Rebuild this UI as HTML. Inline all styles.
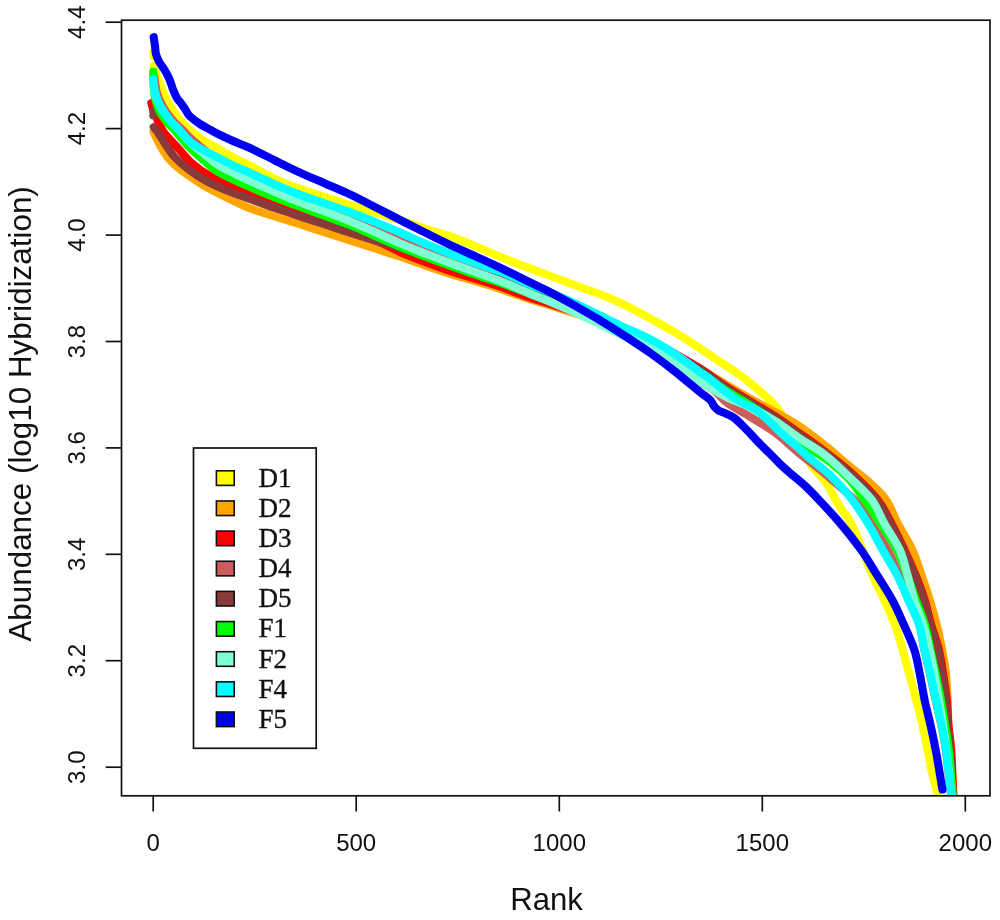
<!DOCTYPE html>
<html><head><meta charset="utf-8"><title>Rank abundance</title>
<style>
html,body{margin:0;padding:0;background:#fff;}
body{width:1000px;height:920px;overflow:hidden;}
svg{display:block;}
text{fill:#111;}
.ax{font-family:"Liberation Sans",sans-serif;font-size:24px;}
.ti{font-family:"Liberation Sans",sans-serif;font-size:31.1px;}
.yl{font-family:"Liberation Sans",sans-serif;font-size:31.4px;}
.lg{font-family:"Liberation Serif",serif;font-size:27px;stroke:#111;stroke-width:0.35px;}
</style></head><body>
<svg width="1000" height="920" viewBox="0 0 1000 920">
<rect x="0" y="0" width="1000" height="920" fill="#ffffff"/>
<defs><clipPath id="pc"><rect x="121.5" y="20.2" width="868.5" height="775.6"/></clipPath></defs>

<g clip-path="url(#pc)" fill="none" stroke-width="8.1" stroke-linecap="round" stroke-linejoin="round">
<path stroke="#FFFF00" d="M153.6,65.9C154.2,67.8 156.3,74.0 157.5,77.2C158.7,80.4 159.7,82.9 160.5,85.0C161.3,87.1 161.2,87.7 162.2,90.0C163.2,92.3 164.8,95.7 166.5,99.0C168.2,102.3 170.3,106.5 172.6,110.0C174.8,113.5 176.9,116.5 180.0,120.0C183.1,123.5 187.3,127.4 191.0,130.7C194.7,133.9 198.0,136.8 202.0,139.5C206.0,142.2 210.0,144.1 215.0,146.9C220.0,149.7 226.2,153.4 232.0,156.5C237.8,159.6 242.8,162.0 250.0,165.7C257.2,169.4 266.7,174.9 275.0,178.8C283.3,182.7 291.7,185.9 300.0,188.9C308.3,191.9 316.7,194.3 325.0,197.0C333.3,199.7 341.7,202.5 350.0,205.1C358.3,207.7 366.7,210.0 375.0,212.5C383.3,215.0 391.7,217.3 400.0,220.0C408.3,222.7 416.7,225.8 425.0,228.5C433.3,231.2 441.7,233.5 450.0,236.4C458.3,239.3 466.7,242.6 475.0,246.0C483.3,249.4 491.7,253.3 500.0,256.7C508.3,260.1 516.7,263.3 525.0,266.5C533.3,269.7 541.7,272.8 550.0,275.9C558.3,279.0 566.7,282.1 575.0,285.2C583.3,288.3 591.7,291.0 600.0,294.3C608.3,297.6 616.7,301.1 625.0,305.1C633.3,309.1 641.7,313.9 650.0,318.5C658.3,323.1 666.7,327.4 675.0,332.4C683.3,337.4 692.9,343.7 700.0,348.3C707.1,352.9 711.6,356.2 717.4,360.1C723.2,364.0 729.4,367.7 734.8,371.5C740.2,375.3 744.2,378.1 750.0,382.9C755.8,387.6 764.6,395.2 769.6,400.0C774.6,404.8 775.8,405.4 780.0,411.7C784.2,418.0 789.8,429.1 795.0,438.0C800.2,446.9 806.0,457.8 811.0,465.0C816.0,472.2 820.7,475.2 824.8,481.0C828.9,486.8 832.9,495.2 835.7,500.0C838.6,504.8 839.9,507.0 841.9,510.0C843.9,513.0 845.9,514.7 848.0,518.0C850.1,521.3 852.0,525.0 854.3,530.0C856.6,535.0 859.5,542.2 861.8,548.0C864.1,553.8 865.7,559.2 868.0,565.0C870.3,570.8 873.1,576.7 875.8,582.5C878.5,588.3 881.1,592.9 884.3,600.0C887.5,607.1 891.9,616.7 895.0,625.0C898.1,633.3 900.3,641.7 902.7,650.0C905.1,658.3 907.2,666.7 909.5,675.0C911.8,683.3 914.0,691.7 916.2,700.0C918.4,708.3 920.6,716.7 922.5,725.0C924.4,733.3 926.0,742.2 927.6,750.0C929.2,757.8 930.3,764.4 932.0,772.0C933.7,779.6 936.6,791.0 937.8,795.8C939.0,800.6 938.8,800.1 939.0,801.0"/>
<circle cx="153.3" cy="52.5" r="4.05" fill="#FFFF00" stroke="none"/>
<circle cx="153.3" cy="56.5" r="4.05" fill="#FFFF00" stroke="none"/>
<path stroke="#FFA500" d="M153.5,132.0C154.1,133.2 155.5,136.3 156.8,139.0C158.1,141.7 159.8,145.1 161.5,148.0C163.2,150.9 164.8,153.7 167.0,156.5C169.2,159.3 172.3,162.5 175.0,165.0C177.7,167.5 180.5,169.6 183.0,171.5C185.5,173.4 186.8,174.1 190.0,176.3C193.2,178.5 197.8,181.9 202.0,184.5C206.2,187.1 210.0,189.0 215.0,191.6C220.0,194.2 226.2,197.2 232.0,200.0C237.8,202.8 242.8,205.6 250.0,208.3C257.2,211.1 266.7,213.8 275.0,216.5C283.3,219.2 291.7,221.5 300.0,224.2C308.3,226.9 316.7,229.8 325.0,232.5C333.3,235.2 341.7,237.7 350.0,240.4C358.3,243.1 366.7,245.8 375.0,248.5C383.3,251.2 391.7,253.7 400.0,256.5C408.3,259.3 416.7,262.6 425.0,265.5C433.3,268.4 441.7,271.2 450.0,273.8C458.3,276.4 466.7,278.6 475.0,281.1C483.3,283.6 491.7,286.1 500.0,288.9C508.3,291.6 516.7,294.9 525.0,297.6C533.3,300.4 541.7,302.8 550.0,305.4C558.3,308.0 566.7,310.7 575.0,313.5C583.3,316.3 591.7,318.9 600.0,322.0C608.3,325.1 616.7,328.7 625.0,332.0C633.3,335.3 641.7,338.1 650.0,341.9C658.3,345.7 666.7,350.5 675.0,355.0C683.3,359.5 691.7,364.2 700.0,369.0C708.3,373.8 716.7,379.0 725.0,383.9C733.3,388.8 741.7,393.7 750.0,398.4C758.3,403.1 766.7,407.3 775.0,412.0C783.3,416.7 791.7,421.1 800.0,426.7C808.3,432.3 816.7,438.9 825.0,445.5C833.3,452.1 842.5,460.4 850.0,466.6C857.5,472.9 864.0,477.4 870.0,483.0C876.0,488.6 881.4,493.0 886.2,500.0C891.0,507.0 894.2,516.7 898.6,525.0C903.0,533.3 908.6,541.7 912.4,550.0C916.2,558.3 918.6,566.7 921.5,575.0C924.4,583.3 927.2,591.7 929.8,600.0C932.3,608.3 934.7,616.7 936.8,625.0C938.9,633.3 940.7,641.7 942.2,650.0C943.7,658.3 945.1,666.7 946.0,675.0C946.9,683.3 947.2,691.7 947.6,700.0C948.0,708.3 948.0,716.7 948.4,725.0C948.8,733.3 949.2,738.3 949.9,750.0C950.6,761.7 951.9,786.5 952.4,795.0C952.9,803.5 952.7,800.0 952.7,801.0"/>
<path stroke="#FF0000" d="M151.3,103.0C151.7,104.2 152.5,107.2 153.5,110.0C154.5,112.8 156.0,116.7 157.5,120.0C159.0,123.3 160.4,126.9 162.3,130.0C164.2,133.1 166.6,135.7 169.0,138.5C171.4,141.3 174.6,144.3 177.0,147.0C179.4,149.7 181.3,152.1 183.5,154.5C185.7,156.9 186.9,158.8 190.0,161.5C193.1,164.2 197.8,168.2 202.0,171.0C206.2,173.8 210.0,176.0 215.0,178.5C220.0,181.0 226.2,183.8 232.0,186.0C237.8,188.2 242.8,188.9 250.0,191.5C257.2,194.1 266.7,198.4 275.0,201.5C283.3,204.6 291.7,207.2 300.0,210.0C308.3,212.8 316.7,215.6 325.0,218.5C333.3,221.4 341.7,224.0 350.0,227.5C358.3,231.0 366.7,235.4 375.0,239.5C383.3,243.6 391.7,248.3 400.0,252.1C408.3,255.8 416.7,258.9 425.0,262.0C433.3,265.1 441.7,268.2 450.0,271.0C458.3,273.8 466.7,276.0 475.0,278.6C483.3,281.2 491.7,283.6 500.0,286.5C508.3,289.4 516.7,293.0 525.0,295.9C533.3,298.8 541.7,301.3 550.0,304.0C558.3,306.7 566.7,309.2 575.0,312.0C583.3,314.8 591.7,317.8 600.0,321.0C608.3,324.2 616.6,328.2 625.0,331.5C633.4,334.8 642.0,336.8 650.4,340.6C658.8,344.4 667.1,349.4 675.5,354.1C683.9,358.8 692.2,363.4 700.5,368.7C708.8,374.0 717.2,380.7 725.5,386.1C733.8,391.6 742.1,396.3 750.5,401.4C758.9,406.5 767.2,411.2 775.6,416.7C784.0,422.1 792.3,428.2 800.6,434.1C808.9,440.0 817.2,445.8 825.6,452.2C834.0,458.6 842.1,464.5 850.7,472.4C859.3,480.3 870.5,490.7 877.4,499.4C884.3,508.1 887.4,516.1 891.9,524.5C896.4,532.9 900.4,541.2 904.3,549.6C908.2,558.0 912.0,566.2 915.4,574.6C918.8,583.0 922.0,591.4 924.6,599.7C927.2,608.1 928.8,616.4 931.2,624.7C933.6,633.1 936.9,641.4 938.9,649.8C940.9,658.1 942.0,666.4 943.3,674.8C944.6,683.1 945.9,691.5 946.8,699.9C947.6,708.2 947.7,716.6 948.4,724.9C949.1,733.2 950.4,738.2 951.2,749.9C952.0,761.6 953.0,786.5 953.4,795.0C953.8,803.5 953.7,800.0 953.7,801.0"/>
<path stroke="#CD5C5C" d="M154.2,76.0C154.4,77.5 155.0,82.2 155.5,85.0C156.0,87.8 156.2,90.3 157.0,93.0C157.8,95.7 158.7,98.2 160.0,101.0C161.3,103.8 162.9,106.8 165.0,110.0C167.1,113.2 169.8,116.8 172.5,120.0C175.2,123.2 178.2,125.8 181.5,129.0C184.8,132.2 186.4,134.7 192.0,139.5C197.6,144.3 205.3,151.8 215.0,158.0C224.7,164.2 235.8,169.8 250.0,176.5C264.2,183.2 283.3,191.8 300.0,198.5C316.7,205.2 333.3,209.9 350.0,216.5C366.7,223.1 383.3,231.0 400.0,238.0C416.7,245.0 433.3,252.1 450.0,258.5C466.7,264.9 483.3,270.1 500.0,276.5C516.7,282.9 533.3,289.8 550.0,297.0C566.7,304.2 583.3,311.9 600.0,320.0C616.7,328.1 633.3,335.6 650.0,345.9C666.7,356.1 689.2,373.9 700.0,381.5C710.8,389.1 710.4,387.6 715.0,391.2C719.6,394.8 722.0,399.1 727.8,403.3C733.6,407.6 742.1,411.8 750.0,416.7C757.9,421.6 766.7,426.3 775.0,432.5C783.3,438.7 791.7,447.1 800.0,454.0C808.3,460.9 815.9,466.3 825.0,474.0C834.1,481.7 846.6,491.5 854.4,500.0C862.2,508.5 866.4,516.7 872.0,525.0C877.6,533.3 883.3,541.7 887.8,550.0C892.3,558.3 895.5,566.7 899.0,575.0C902.5,583.3 905.6,591.7 909.0,600.0C912.4,608.3 917.0,616.7 919.5,625.0C922.0,633.3 922.5,641.7 924.3,650.0C926.1,658.3 928.4,666.7 930.3,675.0C932.2,683.3 933.8,691.7 935.6,700.0C937.4,708.3 939.6,716.7 941.3,725.0C943.0,733.3 944.2,738.2 945.8,750.0C947.4,761.8 950.1,787.3 951.1,795.8C952.1,804.3 951.7,800.1 951.8,801.0"/>
<path stroke="#8B3A3A" d="M153.7,127.2C154.2,127.8 155.7,129.2 157.0,131.0C158.3,132.8 159.9,135.6 161.5,138.0C163.1,140.4 164.4,142.7 166.3,145.5C168.2,148.3 170.3,152.0 172.8,155.0C175.3,158.0 178.6,160.9 181.5,163.5C184.4,166.1 186.6,168.0 190.0,170.5C193.4,173.0 197.8,176.0 202.0,178.5C206.2,181.0 210.0,183.0 215.0,185.3C220.0,187.6 226.2,190.2 232.0,192.5C237.8,194.8 242.8,196.4 250.0,199.0C257.2,201.6 266.7,205.1 275.0,208.0C283.3,210.9 291.7,213.6 300.0,216.3C308.3,219.1 316.7,221.8 325.0,224.5C333.3,227.2 341.7,230.0 350.0,232.7C358.3,235.4 366.7,238.0 375.0,240.5C383.3,243.0 391.7,245.1 400.0,247.8C408.3,250.5 416.7,253.6 425.0,256.5C433.3,259.4 441.7,262.2 450.0,265.0C458.3,267.8 466.7,270.5 475.0,273.0C483.3,275.5 491.7,277.3 500.0,280.0C508.3,282.7 516.7,286.0 525.0,289.0C533.3,292.0 541.7,294.8 550.0,298.0C558.3,301.2 566.7,305.0 575.0,308.5C583.3,312.0 591.7,315.4 600.0,319.0C608.3,322.6 616.7,326.2 625.0,330.0C633.3,333.8 641.7,337.4 650.0,341.6C658.3,345.8 666.7,350.3 675.0,355.0C683.3,359.7 691.7,364.3 700.0,369.6C708.3,374.9 716.7,381.4 725.0,386.8C733.3,392.2 741.7,397.2 750.0,402.3C758.3,407.4 766.7,412.1 775.0,417.5C783.3,422.9 791.7,429.0 800.0,434.9C808.3,440.8 816.7,446.6 825.0,453.0C833.3,459.4 841.4,465.3 850.0,473.1C858.6,480.9 869.8,491.4 876.6,500.0C883.4,508.6 886.5,516.7 891.0,525.0C895.5,533.3 899.5,541.7 903.4,550.0C907.3,558.3 911.1,566.7 914.5,575.0C917.9,583.3 921.1,591.7 923.7,600.0C926.3,608.3 927.8,616.7 930.2,625.0C932.6,633.3 935.9,641.7 937.9,650.0C939.9,658.3 941.0,666.7 942.3,675.0C943.6,683.3 944.9,691.7 945.8,700.0C946.6,708.3 946.7,716.7 947.4,725.0C948.1,733.3 949.4,738.3 950.2,750.0C951.0,761.7 952.0,786.5 952.4,795.0C952.8,803.5 952.7,800.0 952.7,801.0"/>
<circle cx="153.3" cy="111.5" r="4.05" fill="#8B3A3A" stroke="none"/>
<circle cx="153.3" cy="115.5" r="4.05" fill="#8B3A3A" stroke="none"/>
<path stroke="#00FF00" d="M153.3,71.5C153.3,73.8 153.1,80.6 153.4,85.0C153.7,89.4 154.1,93.8 155.0,98.0C155.9,102.2 157.2,106.2 159.0,110.0C160.8,113.8 163.4,117.7 166.0,121.0C168.6,124.3 170.6,125.5 174.6,130.0C178.6,134.5 185.4,143.2 190.0,148.0C194.6,152.8 197.8,155.1 202.0,158.7C206.2,162.3 210.0,166.4 215.0,169.8C220.0,173.2 226.2,176.1 232.0,179.0C237.8,181.9 242.8,184.0 250.0,187.1C257.2,190.2 266.7,194.2 275.0,197.5C283.3,200.8 291.7,203.7 300.0,206.8C308.3,209.9 316.7,212.9 325.0,216.0C333.3,219.1 341.7,221.8 350.0,225.1C358.3,228.4 366.7,232.4 375.0,236.0C383.3,239.6 391.7,243.3 400.0,246.7C408.3,250.1 416.7,253.3 425.0,256.5C433.3,259.7 441.7,262.7 450.0,265.7C458.3,268.7 466.7,271.6 475.0,274.5C483.3,277.4 491.7,279.9 500.0,282.8C508.3,285.7 516.7,288.9 525.0,292.0C533.3,295.1 541.7,298.4 550.0,301.5C558.3,304.6 566.7,307.4 575.0,310.5C583.3,313.6 591.7,316.6 600.0,320.0C608.3,323.4 616.7,327.2 625.0,331.0C633.3,334.8 641.7,338.3 650.0,342.6C658.3,346.9 666.7,351.9 675.0,357.0C683.3,362.1 691.7,367.5 700.0,373.0C708.3,378.5 716.7,384.4 725.0,389.8C733.3,395.2 741.7,399.7 750.0,405.1C758.3,410.5 766.7,415.9 775.0,422.0C783.3,428.1 790.8,435.3 800.0,442.0C809.2,448.7 821.7,455.7 830.0,462.0C838.3,468.3 844.3,473.7 850.0,480.0C855.7,486.3 859.4,492.8 864.4,500.0C869.4,507.2 874.6,514.7 880.0,523.0C885.4,531.3 892.5,541.3 897.0,550.0C901.5,558.7 903.9,566.7 907.0,575.0C910.1,583.3 912.9,591.7 915.9,600.0C918.9,608.3 922.6,616.7 925.0,625.0C927.4,633.3 928.7,641.7 930.5,650.0C932.3,658.3 934.2,666.7 936.0,675.0C937.8,683.3 939.5,691.7 941.0,700.0C942.5,708.3 943.7,716.7 945.0,725.0C946.3,733.3 947.5,738.3 948.8,750.0C950.1,761.7 952.1,786.5 952.8,795.0C953.5,803.5 953.1,800.0 953.2,801.0"/>
<path stroke="#7FFFD4" d="M153.4,84.0C153.6,85.5 154.0,90.0 154.8,93.0C155.6,96.0 156.6,98.9 158.0,102.0C159.4,105.1 161.4,108.3 163.5,111.5C165.6,114.7 167.8,117.8 170.5,121.0C173.2,124.2 176.6,127.3 179.8,130.8C183.1,134.4 186.1,138.6 190.0,142.3C193.9,146.0 198.8,149.6 203.0,153.0C207.2,156.4 210.2,159.6 215.0,162.8C219.8,166.1 226.2,169.5 232.0,172.5C237.8,175.5 242.8,177.8 250.0,181.0C257.2,184.2 266.7,188.4 275.0,192.0C283.3,195.6 291.7,199.1 300.0,202.3C308.3,205.6 316.7,208.3 325.0,211.5C333.3,214.7 341.7,217.8 350.0,221.2C358.3,224.6 366.7,228.3 375.0,232.0C383.3,235.7 391.7,239.8 400.0,243.4C408.3,247.0 416.7,250.2 425.0,253.5C433.3,256.8 441.7,259.8 450.0,262.9C458.3,266.0 466.7,269.0 475.0,272.0C483.3,275.0 491.7,277.8 500.0,281.0C508.3,284.2 516.7,288.0 525.0,291.5C533.3,295.0 541.7,298.3 550.0,301.8C558.3,305.3 566.7,308.8 575.0,312.6C583.3,316.4 591.7,320.5 600.0,324.5C608.3,328.5 616.7,332.9 625.0,336.5C633.3,340.1 641.7,341.9 650.0,346.1C658.3,350.4 666.7,356.1 675.0,362.0C683.3,367.9 691.7,375.8 700.0,381.5C708.3,387.2 716.7,392.1 725.0,396.4C733.3,400.7 741.7,403.0 750.0,407.1C758.3,411.2 766.7,415.7 775.0,421.0C783.3,426.3 791.7,433.0 800.0,438.7C808.3,444.4 816.7,448.5 825.0,455.0C833.3,461.5 842.2,470.2 850.0,477.7C857.8,485.2 866.1,492.4 871.8,500.0C877.5,507.6 879.3,514.7 884.0,523.0C888.7,531.3 895.9,541.3 899.8,550.0C903.7,558.7 905.1,566.7 907.5,575.0C909.9,583.3 911.5,591.7 914.1,600.0C916.7,608.3 920.6,616.7 923.2,625.0C925.8,633.3 927.6,641.7 929.5,650.0C931.4,658.3 932.9,666.7 934.5,675.0C936.1,683.3 937.6,691.7 939.0,700.0C940.4,708.3 941.8,716.7 943.0,725.0C944.2,733.3 945.1,738.3 946.5,750.0C947.9,761.7 950.6,786.5 951.5,795.0C952.4,803.5 951.9,800.0 952.0,801.0"/>
<path stroke="#00FFFF" d="M153.3,79.3C153.5,81.1 153.9,86.5 154.6,90.0C155.3,93.5 156.2,96.7 157.5,100.0C158.8,103.3 160.5,106.6 162.6,110.0C164.7,113.4 167.2,117.2 170.0,120.5C172.8,123.8 176.1,126.5 179.4,130.0C182.7,133.5 186.2,138.2 190.0,141.5C193.8,144.8 197.8,147.1 202.0,149.5C206.2,151.9 210.0,153.5 215.0,156.1C220.0,158.7 226.2,162.2 232.0,165.0C237.8,167.8 242.8,169.7 250.0,172.9C257.2,176.2 266.7,180.8 275.0,184.5C283.3,188.2 291.7,191.7 300.0,194.9C308.3,198.1 316.7,200.6 325.0,203.5C333.3,206.4 341.7,209.0 350.0,212.1C358.3,215.2 366.7,218.6 375.0,222.0C383.3,225.4 391.7,228.9 400.0,232.5C408.3,236.1 416.7,240.0 425.0,243.5C433.3,247.0 441.7,250.4 450.0,253.7C458.3,256.9 466.7,260.0 475.0,263.0C483.3,266.0 491.7,268.2 500.0,271.5C508.3,274.8 516.7,279.0 525.0,282.5C533.3,286.0 541.7,289.0 550.0,292.5C558.3,296.0 566.7,299.7 575.0,303.5C583.3,307.3 591.7,311.5 600.0,315.5C608.3,319.5 616.7,323.7 625.0,327.6C633.3,331.5 641.7,334.7 650.0,339.1C658.3,343.5 666.7,348.5 675.0,354.0C683.3,359.5 693.8,367.6 700.0,372.0C706.2,376.4 707.8,377.3 712.0,380.5C716.2,383.7 720.8,388.0 725.0,391.2C729.2,394.4 732.8,397.3 737.0,399.9C741.2,402.4 746.2,404.4 750.0,406.5C753.8,408.6 755.8,409.4 760.0,412.8C764.2,416.2 771.7,423.8 775.0,427.0C778.3,430.2 775.8,428.2 780.0,432.0C784.2,435.8 794.8,444.9 800.0,449.5C805.2,454.1 806.6,455.5 811.3,459.5C816.0,463.5 823.5,469.2 828.3,473.5C833.1,477.8 836.0,481.2 840.0,485.5C844.0,489.8 847.2,492.9 852.0,499.5C856.8,506.1 863.9,516.6 869.0,525.0C874.1,533.4 878.0,541.7 882.7,550.0C887.4,558.3 892.7,566.7 897.0,575.0C901.3,583.3 904.6,591.7 908.3,600.0C912.0,608.3 916.5,616.7 919.2,625.0C921.9,633.3 922.6,641.7 924.5,650.0C926.4,658.3 928.6,666.7 930.5,675.0C932.4,683.3 934.0,691.7 935.8,700.0C937.6,708.3 939.8,716.7 941.5,725.0C943.2,733.3 944.4,738.2 946.0,750.0C947.6,761.8 950.3,787.3 951.3,795.8C952.3,804.3 951.9,800.1 952.0,801.0"/>
<path stroke="#0000F0" d="M153.7,37.2C153.9,38.7 154.6,43.1 155.0,45.9C155.4,48.6 155.2,51.1 155.9,53.7C156.6,56.3 157.6,59.0 158.9,61.5C160.2,64.0 162.2,66.2 163.7,68.5C165.1,70.8 166.5,73.2 167.6,75.4C168.7,77.7 169.6,79.6 170.5,82.0C171.4,84.4 172.1,87.3 173.2,90.0C174.3,92.7 175.7,96.0 177.0,98.2C178.3,100.5 179.8,101.5 181.2,103.5C182.6,105.5 184.1,107.8 185.6,110.0C187.1,112.2 187.6,114.1 190.0,116.4C192.4,118.7 196.5,121.7 200.0,124.0C203.5,126.3 208.3,128.6 210.8,130.0C213.3,131.4 211.5,130.6 215.0,132.3C218.5,134.1 226.2,137.9 232.0,140.5C237.8,143.1 242.8,144.7 250.0,148.0C257.2,151.3 266.7,156.4 275.0,160.5C283.3,164.6 291.7,168.8 300.0,172.6C308.3,176.4 316.7,179.9 325.0,183.5C333.3,187.1 341.7,190.5 350.0,194.4C358.3,198.3 366.7,202.8 375.0,207.0C383.3,211.2 391.7,215.6 400.0,219.8C408.3,224.1 416.7,228.3 425.0,232.5C433.3,236.7 441.7,240.9 450.0,244.8C458.3,248.7 466.7,252.3 475.0,256.1C483.3,259.9 491.7,263.7 500.0,267.7C508.3,271.7 516.7,275.8 525.0,279.9C533.3,284.0 541.7,287.8 550.0,292.1C558.3,296.4 566.7,301.1 575.0,305.8C583.3,310.5 591.7,315.2 600.0,320.2C608.3,325.2 616.7,330.6 625.0,336.0C633.3,341.4 641.7,346.9 650.0,352.8C658.3,358.7 666.7,364.9 675.0,371.5C683.3,378.1 694.8,388.0 700.0,392.2C705.2,396.4 704.2,395.0 706.0,396.5C707.8,398.0 709.6,399.3 711.0,401.0C712.4,402.7 713.2,405.2 714.5,406.8C715.8,408.4 716.6,409.3 718.5,410.4C720.4,411.5 723.2,412.2 726.0,413.6C728.8,415.0 731.5,415.7 735.0,418.5C738.5,421.3 742.8,426.0 747.0,430.2C751.2,434.4 755.3,439.1 760.0,443.9C764.7,448.7 771.7,455.4 775.0,458.8C778.3,462.2 777.5,461.6 780.0,464.0C782.5,466.4 785.9,469.4 790.0,473.0C794.1,476.6 799.9,480.9 804.8,485.5C809.7,490.1 813.6,494.2 819.5,500.5C825.4,506.8 833.0,514.8 840.0,523.0C847.0,531.2 855.0,541.3 861.2,550.0C867.4,558.7 871.8,566.7 877.0,575.0C882.2,583.3 887.8,591.7 892.3,600.0C896.8,608.3 900.3,616.7 904.0,625.0C907.7,633.3 911.7,641.7 914.4,650.0C917.1,658.3 918.3,666.7 920.0,675.0C921.7,683.3 922.9,691.7 924.6,700.0C926.4,708.3 928.6,716.7 930.5,725.0C932.4,733.3 934.2,742.2 935.7,750.0C937.2,757.8 938.4,765.4 939.5,772.0C940.6,778.6 941.9,786.6 942.4,789.5"/>
</g>
<rect x="121.5" y="20.2" width="868.5" height="775.5999999999999" fill="none" stroke="#111" stroke-width="1.7"/>
<g stroke="#111" stroke-width="1.7" fill="none">
<line x1="105.7" y1="22.2" x2="121.5" y2="22.2"/>
<line x1="105.7" y1="128.6" x2="121.5" y2="128.6"/>
<line x1="105.7" y1="235.1" x2="121.5" y2="235.1"/>
<line x1="105.7" y1="341.5" x2="121.5" y2="341.5"/>
<line x1="105.7" y1="447.9" x2="121.5" y2="447.9"/>
<line x1="105.7" y1="554.3" x2="121.5" y2="554.3"/>
<line x1="105.7" y1="660.7" x2="121.5" y2="660.7"/>
<line x1="105.7" y1="767.2" x2="121.5" y2="767.2"/>
<line x1="153.2" y1="795.8" x2="153.2" y2="811.5"/>
<line x1="356.2" y1="795.8" x2="356.2" y2="811.5"/>
<line x1="559.3" y1="795.8" x2="559.3" y2="811.5"/>
<line x1="762.3" y1="795.8" x2="762.3" y2="811.5"/>
<line x1="965.3" y1="795.8" x2="965.3" y2="811.5"/>
</g>
<text class="ax" text-anchor="middle" transform="translate(85.2,22.2) rotate(-90)">4.4</text>
<text class="ax" text-anchor="middle" transform="translate(85.2,128.6) rotate(-90)">4.2</text>
<text class="ax" text-anchor="middle" transform="translate(85.2,235.1) rotate(-90)">4.0</text>
<text class="ax" text-anchor="middle" transform="translate(85.2,341.5) rotate(-90)">3.8</text>
<text class="ax" text-anchor="middle" transform="translate(85.2,447.9) rotate(-90)">3.6</text>
<text class="ax" text-anchor="middle" transform="translate(85.2,554.3) rotate(-90)">3.4</text>
<text class="ax" text-anchor="middle" transform="translate(85.2,660.7) rotate(-90)">3.2</text>
<text class="ax" text-anchor="middle" transform="translate(85.2,767.2) rotate(-90)">3.0</text>
<text class="ax" text-anchor="middle" x="153.2" y="850.8">0</text>
<text class="ax" text-anchor="middle" x="356.2" y="850.8">500</text>
<text class="ax" text-anchor="middle" x="559.3" y="850.8">1000</text>
<text class="ax" text-anchor="middle" x="762.3" y="850.8">1500</text>
<text class="ax" text-anchor="middle" x="965.3" y="850.8">2000</text>
<text class="ti" text-anchor="middle" x="546.6" y="909.8">Rank</text>
<text class="yl" text-anchor="middle" transform="translate(30.5,413.9) rotate(-90)">Abundance (log10 Hybridization)</text>
<rect x="193.5" y="448" width="122.7" height="300.3" fill="#fff" stroke="#111" stroke-width="1.7"/>
<rect x="216.4" y="470.80" width="17.8" height="14.6" fill="#FFFF00" stroke="#111" stroke-width="1.6"/>
<text class="lg" x="258.5" y="486.70">D1</text>
<rect x="216.4" y="500.95" width="17.8" height="14.6" fill="#FFA500" stroke="#111" stroke-width="1.6"/>
<text class="lg" x="258.5" y="516.85">D2</text>
<rect x="216.4" y="531.10" width="17.8" height="14.6" fill="#FF0000" stroke="#111" stroke-width="1.6"/>
<text class="lg" x="258.5" y="547.00">D3</text>
<rect x="216.4" y="561.25" width="17.8" height="14.6" fill="#CD5C5C" stroke="#111" stroke-width="1.6"/>
<text class="lg" x="258.5" y="577.15">D4</text>
<rect x="216.4" y="591.40" width="17.8" height="14.6" fill="#8B3A3A" stroke="#111" stroke-width="1.6"/>
<text class="lg" x="258.5" y="607.30">D5</text>
<rect x="216.4" y="621.55" width="17.8" height="14.6" fill="#00FF00" stroke="#111" stroke-width="1.6"/>
<text class="lg" x="258.5" y="637.45">F1</text>
<rect x="216.4" y="651.70" width="17.8" height="14.6" fill="#7FFFD4" stroke="#111" stroke-width="1.6"/>
<text class="lg" x="258.5" y="667.60">F2</text>
<rect x="216.4" y="681.85" width="17.8" height="14.6" fill="#00FFFF" stroke="#111" stroke-width="1.6"/>
<text class="lg" x="258.5" y="697.75">F4</text>
<rect x="216.4" y="712.00" width="17.8" height="14.6" fill="#0000F0" stroke="#111" stroke-width="1.6"/>
<text class="lg" x="258.5" y="727.90">F5</text>
</svg></body></html>
